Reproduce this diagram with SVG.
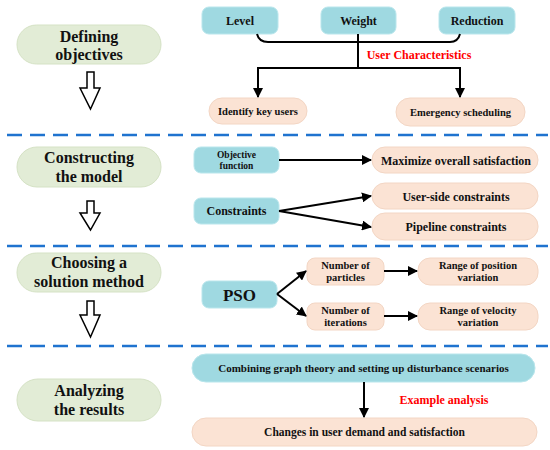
<svg xmlns="http://www.w3.org/2000/svg" width="550" height="450" viewBox="0 0 550 450">
<defs>
<marker id="ah" viewBox="0 0 10 10" refX="9" refY="5" markerWidth="5" markerHeight="5" orient="auto" markerUnits="strokeWidth">
<path d="M0,0 L10,5 L0,10 z" fill="#000"/>
</marker>
<style>
text{font-family:"Liberation Serif","Times New Roman",serif;font-weight:bold;text-anchor:middle;fill:#111}
.stage{fill:#e2ecd6;stroke:#d5e2c5;stroke-width:1}
.teal{fill:#9fd9e1;stroke:#b9e6ec;stroke-width:1}
.peach{fill:#fbe3d4;stroke:#f3d6c4;stroke-width:1}
.big{font-size:16px}
.red{fill:#ff0000;font-size:12px}
.hollow{fill:#fff;stroke:#000;stroke-width:1.5;stroke-linejoin:miter}
.dash{stroke:#1f73cf;stroke-width:2.5;stroke-dasharray:15 8;fill:none}
.conn{stroke:#000;stroke-width:2;fill:none}
</style>
</defs>
<rect width="550" height="450" fill="#fff"/>

<g id="dividers">
<line class="dash" x1="7" y1="135" x2="548" y2="135"/>
<line class="dash" x1="7" y1="246" x2="548" y2="246"/>
<line class="dash" x1="7" y1="346" x2="548" y2="346"/>
</g>

<g id="stage1"><rect class="stage" x="17" y="25" width="144" height="39" rx="19.5"/>
<text class="big" x="89" y="42">Defining</text><text class="big" x="89" y="60">objectives</text></g>
<g id="stage2"><rect class="stage" x="17" y="147" width="144" height="40" rx="20"/>
<text class="big" x="89" y="163">Constructing</text><text class="big" x="89" y="182">the model</text></g>
<g id="stage3"><rect class="stage" x="17" y="253" width="144" height="39" rx="19.5"/>
<text class="big" x="89" y="268">Choosing a</text><text class="big" x="89" y="287">solution method</text></g>
<g id="stage4"><rect class="stage" x="17" y="379" width="144" height="42" rx="21"/>
<text class="big" x="89" y="396">Analyzing</text><text class="big" x="89" y="415">the results</text></g>

<g id="hollow-arrows">
<path class="hollow" d="M87,72 H94 V88 H100 L90.5,109 L80,88 H87 Z"/>
<path class="hollow" d="M87,201 H94 V213 H100 L90.5,230 L80,213 H87 Z"/>
<path class="hollow" d="M87,301 H94 V315 H100 L90.5,337 L80,315 H87 Z"/>
</g>

<g id="level"><rect class="teal" x="202" y="7" width="76" height="27" rx="7"/><text x="240" y="25" font-size="12">Level</text></g>
<g id="weight"><rect class="teal" x="321" y="7" width="75" height="27" rx="7"/><text x="358.5" y="25" font-size="12">Weight</text></g>
<g id="reduction"><rect class="teal" x="439" y="7" width="76" height="27" rx="7"/><text x="477" y="25" font-size="12">Reduction</text></g>
<g id="identify"><rect class="peach" x="209" y="98" width="98" height="26" rx="13"/><text x="258" y="115" font-size="10.5">Identify key users</text></g>
<g id="emergency"><rect class="peach" x="396" y="98" width="129" height="28" rx="14"/><text x="460.5" y="116" font-size="10.5">Emergency scheduling</text></g>

<g id="objfun"><rect class="teal" x="194" y="147" width="85" height="26" rx="7"/><text x="236.5" y="158" font-size="9.5">Objective</text><text x="236.5" y="169" font-size="9.5">function</text></g>
<g id="constraints"><rect class="teal" x="194" y="198" width="85" height="26" rx="7"/><text x="236.5" y="215" font-size="12">Constraints</text></g>
<g id="maximize"><rect class="peach" x="372" y="147" width="166" height="26" rx="13"/><text x="456" y="164.5" font-size="12">Maximize overall satisfaction</text></g>
<g id="userside"><rect class="peach" x="372" y="183" width="166" height="26" rx="13"/><text x="456" y="200.5" font-size="12">User-side constraints</text></g>
<g id="pipeline"><rect class="peach" x="372" y="213" width="166" height="27" rx="13"/><text x="456" y="231" font-size="12">Pipeline constraints</text></g>

<g id="pso"><rect class="teal" x="202" y="281" width="75" height="27" rx="7"/><text x="239.5" y="301" font-size="17">PSO</text></g>
<g id="particles"><rect class="peach" x="307" y="258" width="77" height="27" rx="8"/><text x="345.5" y="269" font-size="10.5">Number of</text><text x="345.5" y="281" font-size="10.5">particles</text></g>
<g id="iterations"><rect class="peach" x="307" y="303" width="77" height="27" rx="8"/><text x="345.5" y="314" font-size="10.5">Number of</text><text x="345.5" y="326" font-size="10.5">iterations</text></g>
<g id="position"><rect class="peach" x="418" y="258" width="120" height="27" rx="12"/><text x="478" y="269" font-size="10.5">Range of position</text><text x="478" y="281" font-size="10.5">variation</text></g>
<g id="velocity"><rect class="peach" x="418" y="303" width="120" height="27" rx="12"/><text x="478" y="314" font-size="10.5">Range of velocity</text><text x="478" y="326" font-size="10.5">variation</text></g>

<g id="combining"><rect class="teal" x="192" y="354" width="343" height="28" rx="14"/><text x="363.5" y="372" font-size="11">Combining graph theory and setting up disturbance scenarios</text></g>
<g id="changes"><rect class="peach" x="192" y="418" width="345" height="28" rx="14"/><text x="364.5" y="436" font-size="11.5">Changes in user demand and satisfaction</text></g>

<g id="labels">
<text class="red" x="419" y="58.5">User  Characteristics</text>
<text class="red" x="444" y="404">Example analysis</text>
</g>

<g id="connectors">
<path class="conn" d="M257,34 Q259,42 268,42 H450 Q458,42 460,34"/>
<line class="conn" x1="358" y1="34" x2="358" y2="68"/>
<path class="conn" d="M257,68 H461"/>
<line class="conn" x1="258" y1="67" x2="258" y2="97" marker-end="url(#ah)"/>
<line class="conn" x1="460" y1="67" x2="460" y2="97" marker-end="url(#ah)"/>
<line class="conn" x1="279" y1="160" x2="371" y2="160" marker-end="url(#ah)"/>
<line class="conn" x1="279" y1="211" x2="371" y2="196" marker-end="url(#ah)"/>
<line class="conn" x1="279" y1="211" x2="371" y2="227" marker-end="url(#ah)"/>
<line class="conn" x1="277" y1="294" x2="306" y2="271" marker-end="url(#ah)"/>
<line class="conn" x1="277" y1="294" x2="306" y2="316" marker-end="url(#ah)"/>
<line class="conn" x1="384" y1="271" x2="417" y2="271" marker-end="url(#ah)"/>
<line class="conn" x1="384" y1="316" x2="417" y2="316" marker-end="url(#ah)"/>
<line class="conn" x1="364" y1="382" x2="364" y2="417" marker-end="url(#ah)"/>
</g>
</svg>
